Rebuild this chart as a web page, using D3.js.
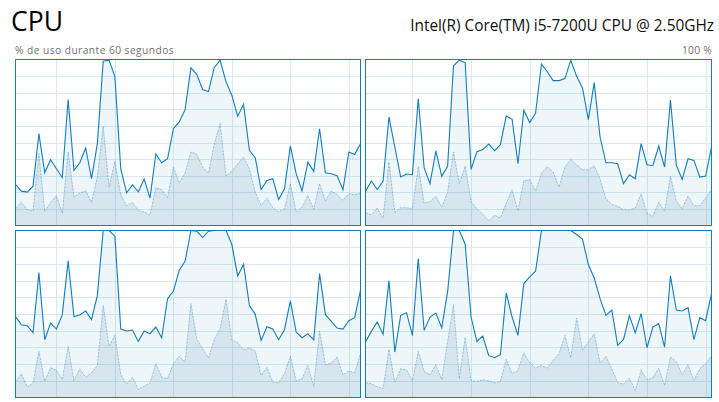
<!DOCTYPE html>
<html>
<head>
<meta charset="utf-8">
<script src="https://cdnjs.cloudflare.com/ajax/libs/d3/7.8.5/d3.min.js"></script>
<style>
html, body { margin: 0; padding: 0; background: #fff; overflow: hidden; }
text { font-family: "Open Sans", "Noto Sans", sans-serif; }
</style>
</head>
<body>
<script>
var title = 'CPU';
var cpuName = 'Intel(R) Core(TM) i5-7200U CPU @ 2.50GHz';
var axisLeftLabel = '% de uso durante 60 segundos';
var axisRightLabel = '100 %';

var totalA = [24.7,20.7,20.1,23.7,55.3,31.8,39.6,34.2,28.8,75.9,33.2,37.8,46.7,28.2,49.3,99,99.6,89.5,34.2,19.7,24.5,20.3,28,16.5,43.1,37.8,40.2,58.3,62.4,69.8,95,91.1,81.9,80.7,95.2,99.6,86.5,78.5,65.8,73,45.3,40.8,21.7,27.2,28.2,15.7,22.1,47.9,31.2,20.9,38.2,32.6,58.3,31.8,31.2,30,21.5,44.3,42.7,49.3];
var kernelA = [10,14,9.5,8.7,43.3,8.5,14,18,7.4,44.3,17.1,19.7,20.9,14,29.2,59.8,23.1,38.6,18.5,11.9,13.9,9.1,8.2,6.2,22.7,21.7,16.9,35.2,25.6,31.6,44.3,42.9,35.2,31.4,49.3,61.4,29.8,32.8,37.2,41.2,34.2,20.1,12.1,16.5,10.7,8.2,10,25.2,8.2,11.1,18.1,9.7,25.2,14.7,20.7,18.7,15.1,19.1,18.5,19.5];

var totalB = [20.5,26.8,21.7,26.8,65.4,47.3,29.2,31,30.6,76.5,34.8,25.2,44.9,29.6,35.6,96.2,99.6,98,33.8,44.5,45.7,49.1,45.1,48.7,66,64,37.2,69.4,62,67.8,97.2,92.6,87.3,87.3,88.5,99.6,89.9,82.9,63.8,86.1,53.3,37.8,37.8,37.2,25.2,30.6,28.2,49.3,36.6,36,47.9,35.2,75.5,36.4,27.8,40.2,39.2,29.2,29.8,47.3];
var kernelB = [7.6,6.4,10.5,4.4,38.2,8,10.7,10.7,9.9,35.6,13.5,14.5,17.7,11.1,20.1,44.3,25.2,35.8,14.5,9.9,6.8,2.8,6.2,4.6,13.5,21.5,8.7,27,27.6,20.7,31.6,35.4,32.2,23.1,35.2,39.8,36.6,33.6,33.6,36,28.2,16.1,12.7,11.5,9.5,9.3,10.5,19.1,7.4,5.6,13.9,8.7,29.6,14.7,10.1,17.7,11.9,11.9,16.5,21.5];

var totalC = [48.4,43.6,43,38.8,74.8,34.6,44.6,41,49.6,81.8,48.4,49.6,51.8,46.6,61.2,100,100,96.6,41,39.8,40.4,33.6,39.8,38.2,42.2,35.8,59.2,63.6,76.2,81.6,100,99.6,95.8,99.6,100,100,100,91.6,72.8,79.8,55.2,49.8,34.2,42.4,41,34.6,40.6,57.8,39.2,35.8,38.2,34.6,74.2,49.6,45.6,41.6,41,46,47.8,64.2];
var kernelC = [9.2,14.2,6.4,8.6,27.6,9.8,17.8,16.4,10.8,30.6,10.2,17.2,12.2,14.8,19.2,55.2,30.6,37.2,13.8,8,12.2,4.8,6.8,8.8,20.2,12.2,11.2,20.2,24.8,21.2,56.2,35.2,29.2,23.6,34.6,41.2,58.8,34.4,32.8,28.6,29.6,27.8,13.2,18,9.2,8.8,14.2,24.8,10,11.2,19.2,6.8,39.8,19.6,20.6,24.2,13.6,15.8,14.8,26.2];

var totalD = [33.2,39.6,45.2,37.8,70,27.2,49.2,50.8,37.2,83.2,40.2,48.2,50.6,41.8,63.2,100,100,91.8,48.2,33.6,36.8,25.2,23.8,25.6,62.6,48.2,37.2,68.2,72.2,75.6,100,100,100,100,100,100,97.6,94.8,79.6,71.6,59.2,49.2,52.4,31.2,34.8,49,38.8,50.2,29.8,42.2,44.2,30.2,72.8,52.4,51.8,53.8,34.6,47.8,46,62.2];
var kernelD = [8.8,8.2,6.4,5.2,28.8,9.2,17.2,16.6,10,27.6,15.6,13.6,19.6,10.8,33.2,55.6,11.2,36.2,10.2,9.6,10.6,10,8.8,9.6,22.8,14.4,16.2,26.8,20.8,17.6,19.2,17.6,22.2,26.2,37.2,23.8,47.6,28.6,33.2,38.2,20.8,24.6,17.2,8.8,8,11.6,4.2,16.2,10.6,11.8,17.6,7.2,24.2,21.6,13.8,19.6,10.2,17.2,20.2,24.6];

var yGrid = [10,20,30,40,50,60,70,80,90];
var xGridLeft = [7,17,27,37,47,57];
var xGridRight = [8,18,28,38,48,58];

var blue = '#117dbb';
var gridColor = '#d9eaf4';

var svg = d3.select('body').append('svg').attr('width',719).attr('height',402);

svg.append('text').attr('x',11).attr('y',31).attr('font-size',26.5).attr('fill','#000').text(title);
svg.append('text').attr('x',714).attr('y',31).attr('text-anchor','end').attr('font-size',15.4).attr('fill','#111').text(cpuName);
svg.append('text').attr('x',15).attr('y',53.5).attr('font-size',10.2).attr('letter-spacing',0.46).attr('fill','#707070').text(axisLeftLabel);
svg.append('text').attr('x',712).attr('y',53.5).attr('text-anchor','end').attr('font-size',10.2).attr('letter-spacing',0.3).attr('fill','#707070').text(axisRightLabel);

function panel(x0, x1, y0, y1, total, kernel, xGrid) {
  var x = d3.scaleLinear().domain([0,59]).range([x0,x1]);
  var y = d3.scaleLinear().domain([0,100]).range([y1,y0]);
  var g = svg.append('g');

  g.selectAll('line.h').data(yGrid).enter().append('line')
   .attr('class','h')
   .attr('x1',x0).attr('x2',x1)
   .attr('y1',d => Math.round(y(d))+0.5).attr('y2',d => Math.round(y(d))+0.5)
   .attr('stroke',gridColor);

  g.selectAll('line.v').data(xGrid).enter().append('line')
   .attr('class','v')
   .attr('x1',d => Math.round(x(d))+0.5).attr('x2',d => Math.round(x(d))+0.5)
   .attr('y1',y0).attr('y2',y1)
   .attr('stroke',gridColor);

  var area = d3.area().x((d,i) => x(i)).y0(y1).y1(d => y(d));
  var line = d3.line().x((d,i) => x(i)).y(d => y(d));

  g.append('path').attr('d',area(total)).attr('fill',blue).attr('fill-opacity',0.065);
  g.append('path').attr('d',area(kernel)).attr('fill','#5a8db5').attr('fill-opacity',0.155);
  g.append('path').attr('d',line(kernel)).attr('fill','none')
   .attr('stroke',blue).attr('stroke-opacity',0.36).attr('stroke-width',1).attr('stroke-dasharray','2.5,1');
  g.append('path').attr('d',line(total)).attr('fill','none')
   .attr('stroke',blue).attr('stroke-width',1.1);

  g.append('rect').attr('x',x0).attr('y',y0)
   .attr('width',x1-x0).attr('height',y1-y0)
   .attr('fill','none').attr('stroke',blue).attr('stroke-width',1);
}

panel(15.5,360.5,59.5,225.5,totalA,kernelA,xGridLeft);
panel(365.5,711.5,59.5,225.5,totalB,kernelB,xGridRight);
panel(15.5,360.5,230.5,397.5,totalC,kernelC,xGridLeft);
panel(365.5,711.5,230.5,397.5,totalD,kernelD,xGridRight);
</script>
</body>
</html>
